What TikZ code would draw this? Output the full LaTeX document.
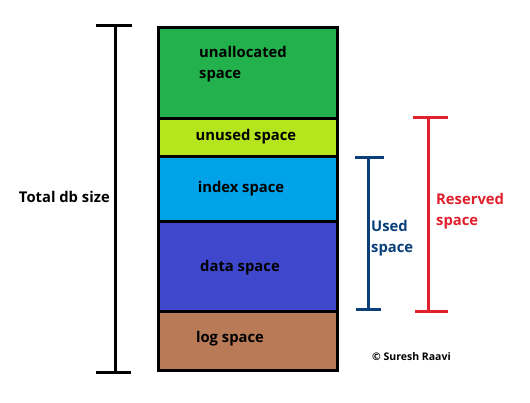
\documentclass[tikz,border=0pt]{standalone}
\usepackage{fontspec}
\setmainfont{Open Sans}
\definecolor{cUnalloc}{HTML}{22B14C}
\definecolor{cUnused}{HTML}{B5E61D}
\definecolor{cIndex}{HTML}{00A2E8}
\definecolor{cData}{HTML}{3F48CC}
\definecolor{cLog}{HTML}{B97A57}
\definecolor{cUsed}{HTML}{0A3F7A}
\definecolor{cRes}{HTML}{E0202C}
\begin{document}
\begin{tikzpicture}[x=1pt,y=-1pt,
  blk/.style={draw=black,line width=3pt},
  lbl/.style={font=\bfseries\fontsize{14.8}{21}\selectfont,inner sep=0pt},
  brk/.style={line width=3pt}]
\useasboundingbox (0,0) rectangle (530,402);
\fill[white] (0,0) rectangle (530,402);
% blocks
\path[blk,fill=cUnalloc] (158,27) rectangle (337,118);
\path[blk,fill=cUnused] (158,118) rectangle (337,156);
\path[blk,fill=cIndex] (158,156) rectangle (337,221);
\path[blk,fill=cData] (158,221) rectangle (337,311);
\path[blk,fill=cLog] (158,311) rectangle (337,370);
\node[lbl,align=left,anchor=west] (ua) at (199,64) {unallocated\\space};
\node[lbl] (un) at (246,137) {unused space};
\node[lbl] (ix) at (241,189) {index space};
\node[lbl] (da) at (240,268) {data space};
\node[lbl] (lg) at (230,339) {log space};
% total bracket
\coordinate (t1) at (115,25);
\coordinate (t2) at (115,372);
\draw[brk] (t1) -- (t2);
\draw[brk] (96,25) -- (132,25);
\draw[brk] (96,372) -- (131,372);
\node[lbl,anchor=east] (tot) at (110,197) {Total db size};
% used bracket
\coordinate (u1) at (368,157);
\coordinate (u2) at (368,309);
\draw[brk,cUsed] (u1) -- (u2);
\draw[brk,cUsed] (355,157) -- (384,157);
\draw[brk,cUsed] (356,309) -- (381,309);
\node[lbl,text=cUsed,align=left,anchor=west] (us) at (371,238) {Used\\space};
% reserved bracket
\coordinate (r1) at (428,117);
\coordinate (r2) at (428,311);
\draw[brk,cRes] (r1) -- (r2);
\draw[brk,cRes] (413,117) -- (448,117);
\draw[brk,cRes] (415,311) -- (448,311);
\node[lbl,text=cRes,align=left,anchor=west] (rs) at (436,211) {Reserved\\space};
\node[font=\bfseries\fontsize{10.5}{12}\selectfont,inner sep=0pt,anchor=west] (cp) at (372,357) {© Suresh Raavi};
\end{tikzpicture}
\end{document}
